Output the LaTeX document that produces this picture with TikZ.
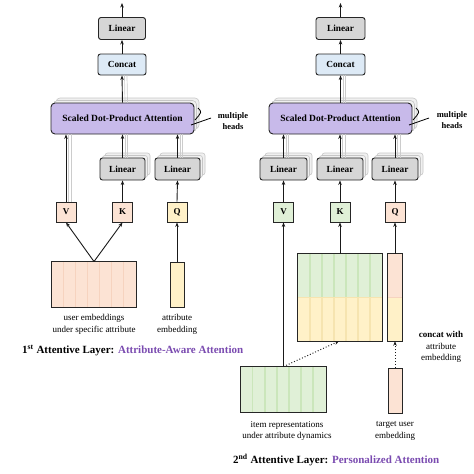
\documentclass[tikz,border=0pt]{standalone}
\usepackage{fontspec}
\setmainfont{Liberation Serif}
\usetikzlibrary{arrows.meta,shadows,calc}
\definecolor{lingray}{HTML}{D6D6D6}
\definecolor{concatblue}{HTML}{DDEAF6}
\definecolor{attpurple}{HTML}{C8BAEA}
\definecolor{txtpurple}{HTML}{7A4BB0}
\definecolor{peach}{HTML}{FCE3D4}
\definecolor{peachs}{HTML}{F6D3BF}
\definecolor{yel}{HTML}{FFF1C8}
\definecolor{yels}{HTML}{F6E4B0}
\definecolor{grn}{HTML}{E0F0D7}
\definecolor{grns}{HTML}{CBE6BB}
\begin{document}
\begin{tikzpicture}[x=1pt,y=-1pt,
  box/.style={draw=black!85, line width=0.9pt, rounded corners=2.5pt, inner sep=0pt,
    font=\bfseries\fontsize{9.3}{10}\selectfont},
  stack/.style={copy shadow={shadow xshift=5pt,shadow yshift=5pt,fill=gray!12,draw=gray!45,line width=0.6pt},
    copy shadow={shadow xshift=2.5pt,shadow yshift=2.5pt,fill=gray!12,draw=gray!45,line width=0.6pt}},
  linbox/.style={box, fill=lingray, minimum width=47pt, minimum height=22pt},
  catbox/.style={box, fill=concatblue, minimum width=48pt, minimum height=21pt},
  attbox/.style={box, stack, fill=attpurple, rounded corners=4pt, minimum width=143pt, minimum height=31pt,
    font=\bfseries\fontsize{9.5}{10}\selectfont},
  vkq/.style={draw=black!85, line width=0.9pt, inner sep=0pt, minimum size=20pt,
    font=\bfseries\fontsize{9}{10}\selectfont},
  matr/.style={draw=black!85, line width=0.9pt, inner sep=0pt},
  arr/.style={-{Stealth[length=4.5pt,width=3.5pt]}, line width=0.9pt, black!90},
  sh/.style={gray!40, line width=0.7pt},
  lbl/.style={align=center, font=\fontsize{9}{11.5}\selectfont, inner sep=0pt},
  blbl/.style={align=center, font=\bfseries\fontsize{8.5}{11.5}\selectfont, inner sep=0pt},
  captext/.style={anchor=west, inner sep=0pt, font=\bfseries\fontsize{11}{13}\selectfont},
  stripe/.style={line width=1.5pt}
]
\useasboundingbox (0,0) rectangle (474,474);

% ================= LEFT PANEL =================
\node[linbox] (linL) at (122,28.5) {Linear};
\node[catbox] (catL) at (122,64.5) {Concat};
\node[attbox] (attL) at (122.5,118.5) {Scaled Dot-Product Attention};
\node[linbox, stack, minimum width=45pt] (lkL) at (122.5,169) {Linear};
\node[linbox, stack, minimum width=45pt] (lqL) at (177.5,169) {Linear};
\node[vkq, fill=peach] (vL) at (66,212) {V};
\node[vkq, fill=peach] (kL) at (122.5,212) {K};
\node[vkq, fill=yel] (qL) at (177,212) {Q};

% user embeddings matrix
\node[matr, minimum width=84pt, minimum height=45pt] (umL) at (94,284.5) {};
\fill[peach] (umL.north west) rectangle (umL.south east);
\foreach \k in {1,...,6} \draw[stripe, peachs] ($(umL.south west)+(\k*12,0)$) -- ($(umL.north west)+(\k*12,0)$);
\draw[matr] (umL.north west) rectangle (umL.south east);
\node[matr, fill=yel, minimum width=14pt, minimum height=45pt] (aeL) at (177,284.5) {};

% arrows left
\draw[arr] (linL.north) -- ++(0,-14);
\draw[arr] (catL.north) -- (linL.south);
\foreach \s in {5,2.5} {
  \draw[sh] ([xshift=\s pt]attL.north) -- ([xshift=\s pt]catL.south);
  \draw[sh] ([xshift=\s pt]lkL.north) -- ([xshift=\s pt]lkL.north |- attL.south);
  \draw[sh] ([xshift=\s pt]lqL.north) -- ([xshift=\s pt]lqL.north |- attL.south);
  \draw[sh] ([xshift=\s pt]vL.north) -- ([xshift=\s pt]vL.north |- attL.south);
}
\draw[arr] (attL.north) -- (catL.south);
\draw[arr] (lkL.north) -- (lkL.north |- attL.south);
\draw[arr] (lqL.north) -- (lqL.north |- attL.south);
\draw[arr] (vL.north) -- (vL.north |- attL.south);
\draw[arr] (kL.north) -- (lkL.south);
\draw[arr] (qL.north) -- (lqL.south);
\draw[arr] (umL.north) -- (vL.south);
\draw[arr] (umL.north) -- (kL.south);
\draw[arr] (aeL.north) -- (qL.south);

% multiple heads left
\draw[line width=0.8pt] (191,125) -- (211,118);
\draw[line width=0.8pt] (198,108) .. controls (202,112) .. (195,120);
\node[blbl] (mhL) at (233,121) {multiple\\heads};

\node[lbl] (ueL) at (94,324.5) {user embeddings\\under specific attribute};
\node[lbl] (atL) at (177,324.5) {attribute\\embedding};
\node[captext] (capL) at (22,351) {1\textsuperscript{st} Attentive Layer: \textcolor{txtpurple}{Attribute-Aware Attention}};

% ================= RIGHT PANEL =================
\node[linbox, minimum width=49pt] (linR) at (340.5,28.5) {Linear};
\node[catbox, minimum width=49pt] (catR) at (340.5,64.5) {Concat};
\node[attbox] (attR) at (340.5,118.5) {Scaled Dot-Product Attention};
\node[linbox, stack] (lvR) at (283.5,169) {Linear};
\node[linbox, stack, minimum width=46pt] (lkR) at (340,169) {Linear};
\node[linbox, stack, minimum width=46pt] (lqR) at (395,169) {Linear};
\node[vkq, fill=grn] (vR) at (283.5,212) {V};
\node[vkq, fill=grn] (kR) at (340,212) {K};
\node[vkq, fill=peach] (qR) at (395,212) {Q};

% big concat matrix
\node[minimum width=84pt, minimum height=87pt, inner sep=0pt] (bmR) at (340,297.5) {};
\fill[grn] (bmR.north west) rectangle (bmR.east);
\fill[yel] (bmR.west) rectangle (bmR.south east);
\foreach \k in {1,...,6} {
  \draw[stripe, grns] ($(bmR.north west)+(\k*12,0)$) -- ($(bmR.west)+(\k*12,0)$);
  \draw[stripe, yels] ($(bmR.west)+(\k*12,0)$) -- ($(bmR.south west)+(\k*12,0)$);
}
\draw[line width=0.8pt, yels] (bmR.west) -- (bmR.east);
\draw[matr] (bmR.north west) rectangle (bmR.south east);

% tall vector
\node[minimum width=14pt, minimum height=87pt, inner sep=0pt] (tvR) at (395,297.5) {};
\fill[peach] (tvR.north west) rectangle (tvR.east);
\fill[yel] (tvR.west) rectangle (tvR.south east);
\draw[line width=0.8pt, peachs] (tvR.west) -- (tvR.east);
\draw[matr] (tvR.north west) rectangle (tvR.south east);

% item representations
\node[matr, minimum width=85pt, minimum height=45pt] (imR) at (283.5,389.5) {};
\fill[grn] (imR.north west) rectangle (imR.south east);
\foreach \k in {1,...,6} \draw[stripe, grns] ($(imR.south west)+(\k*12.1,0)$) -- ($(imR.north west)+(\k*12.1,0)$);
\draw[matr] (imR.north west) rectangle (imR.south east);

% target user
\node[matr, fill=peach, minimum width=14pt, minimum height=45pt] (tuR) at (395,390.5) {};

% arrows right
\draw[arr] (linR.north) -- ++(0,-14);
\draw[arr] (catR.north) -- (linR.south);
\foreach \s in {5,2.5} {
  \draw[sh] ([xshift=\s pt]attR.north) -- ([xshift=\s pt]catR.south);
  \draw[sh] ([xshift=\s pt]lvR.north) -- ([xshift=\s pt]lvR.north |- attR.south);
  \draw[sh] ([xshift=\s pt]lkR.north) -- ([xshift=\s pt]lkR.north |- attR.south);
  \draw[sh] ([xshift=\s pt]lqR.north) -- ([xshift=\s pt]lqR.north |- attR.south);
}
\draw[arr] (attR.north) -- (catR.south);
\draw[arr] (lvR.north) -- (lvR.north |- attR.south);
\draw[arr] (lkR.north) -- (lkR.north |- attR.south);
\draw[arr] (lqR.north) -- (lqR.north |- attR.south);
\draw[arr] (vR.north) -- (lvR.south);
\draw[arr] (kR.north) -- (lkR.south);
\draw[arr] (qR.north) -- (lqR.south);
\draw[arr] (imR.north) -- (vR.south);
\draw[arr] (bmR.north) -- (kR.south);
\draw[arr] (tvR.north) -- (qR.south);
\draw[arr, dotted, line width=1pt] (imR.north) -- ([xshift=-1pt]bmR.south);
\draw[arr, dotted, line width=1pt] (tuR.north) -- (tvR.south);

% multiple heads right
\draw[line width=0.8pt] (409,125) -- (429,118);
\draw[line width=0.8pt] (416,108) .. controls (420,112) .. (413,120);
\node[blbl] (mhR) at (452,120) {multiple\\heads};

\node[lbl] (cwR) at (441,347) {\textbf{concat with}\\attribute\\embedding};
\node[lbl] (irR) at (287,431) {item representations\\under attribute dynamics};
\node[lbl] (tuL) at (395,431) {target user\\embedding};
\node[captext] (capR) at (233,460) {2\textsuperscript{nd} Attentive Layer: \textcolor{txtpurple}{Personalized Attention}};
\end{tikzpicture}
\end{document}
